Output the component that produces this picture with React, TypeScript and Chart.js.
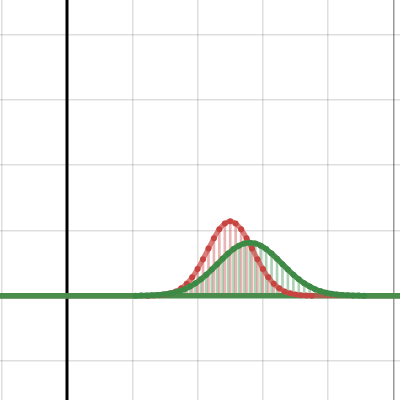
import { useEffect, useRef } from "react";
import Chart from "chart.js/auto";

// visible window of the graph (grid units)
const xMin = -1.026;
const xMax = 5.1;
const yMin = -1.596;
const yMax = 4.53;

// red distribution (sample positions and heights)
const redX = [
  1.25, 1.333, 1.417, 1.5, 1.583, 1.667, 1.75, 1.833, 1.917, 2, 2.083, 2.167,
  2.25, 2.333, 2.417, 2.5, 2.583, 2.667, 2.75, 2.833, 2.917, 3, 3.083, 3.167,
  3.25, 3.333, 3.417, 3.5, 3.583, 3.667, 3.75,
];
const redY = [
  0.002, 0.004, 0.01, 0.019, 0.037, 0.067, 0.115, 0.186, 0.284, 0.411, 0.561,
  0.724, 0.883, 1.018, 1.108, 1.14, 1.108, 1.018, 0.883, 0.724, 0.561, 0.411,
  0.284, 0.186, 0.115, 0.067, 0.037, 0.019, 0.01, 0.004, 0.002,
];

// green distribution
const greenX = [
  1.05, 1.133, 1.217, 1.3, 1.383, 1.467, 1.55, 1.633, 1.717, 1.8, 1.883, 1.967,
  2.05, 2.133, 2.217, 2.3, 2.383, 2.467, 2.55, 2.633, 2.717, 2.8, 2.883, 2.967,
  3.05, 3.133, 3.217, 3.3, 3.383, 3.467, 3.55, 3.633, 3.717, 3.8, 3.883, 3.967,
  4.05, 4.133, 4.217, 4.3, 4.383, 4.467, 4.55,
];
const greenY = [
  0.001, 0.003, 0.004, 0.008, 0.012, 0.02, 0.031, 0.048, 0.071, 0.101, 0.142,
  0.192, 0.252, 0.323, 0.401, 0.484, 0.567, 0.646, 0.715, 0.768, 0.802, 0.814,
  0.802, 0.768, 0.715, 0.646, 0.567, 0.484, 0.401, 0.323, 0.252, 0.192, 0.142,
  0.101, 0.071, 0.048, 0.031, 0.02, 0.012, 0.008, 0.004, 0.003, 0.001,
];

const toPoints = (xs: number[], ys: number[]) =>
  xs.map((x, i) => ({ x, y: ys[i] }));

// curve that runs along y = 0 to both edges of the window
const curve = (xs: number[], ys: number[]) => [
  { x: xMin - 0.1, y: 0 },
  ...toPoints(xs, ys),
  { x: xMax + 0.1, y: 0 },
];

const App = () => {
  const canvasRef = useRef<HTMLCanvasElement | null>(null);

  useEffect(() => {
    document.body.style.margin = "0";
    const ctx = canvasRef.current?.getContext("2d");
    if (!ctx) return;

    const redCurve = curve(redX, redY);
    const greenCurve = curve(greenX, greenY);
    // no dot on the two edge points
    const dot = (n: number, r: number) => (c: any) =>
      c.dataIndex === 0 || c.dataIndex === n - 1 ? 0 : r;

    const chart = new Chart(ctx, {
      type: "line",
      data: {
        datasets: [
          {
            // y axis
            data: [
              { x: 0, y: yMin - 1 },
              { x: 0, y: yMax + 1 },
            ],
            borderColor: "#000",
            borderWidth: 3,
            pointRadius: 0,
            order: 10,
          },
          {
            type: "bar",
            data: toPoints(redX, redY),
            backgroundColor: "rgba(199, 68, 64, 0.4)",
            barThickness: 2,
            grouped: false,
            order: 6,
          },
          {
            type: "bar",
            data: toPoints(greenX, greenY),
            backgroundColor: "rgba(56, 140, 70, 0.4)",
            barThickness: 2,
            grouped: false,
            order: 5,
          },
          {
            // green baseline along y = 0
            data: [
              { x: xMin - 1, y: 0 },
              { x: xMax + 1, y: 0 },
            ],
            borderColor: "#4a8c4c",
            borderWidth: 5.5,
            pointRadius: 0,
            order: 3,
          },
          {
            data: redCurve,
            borderColor: "rgba(205, 80, 76, 0.75)",
            borderWidth: 5,
            cubicInterpolationMode: "monotone",
            pointRadius: dot(redCurve.length, 3),
            pointBackgroundColor: "#c74440",
            pointBorderWidth: 0,
            order: 2,
          },
          {
            data: greenCurve,
            borderColor: "#4a8c4c",
            borderWidth: 5.5,
            cubicInterpolationMode: "monotone",
            pointRadius: dot(greenCurve.length, 3),
            pointBackgroundColor: "#3c8a45",
            pointBorderWidth: 0,
            order: 1,
          },
        ],
      } as any,
      options: {
        animation: false,
        responsive: true,
        maintainAspectRatio: false,
        layout: { padding: 0 },
        plugins: { legend: { display: false }, tooltip: { enabled: false } },
        scales: {
          x: {
            type: "linear",
            min: xMin,
            max: xMax,
            offset: false,
            ticks: { display: false, stepSize: 1, includeBounds: false, autoSkip: false },
            grid: {
              drawTicks: false,
              offset: false,
              lineWidth: 1.5,
              color: (c: any) =>
                c.tick && c.tick.value === 5 ? "#9a9a9a" : "rgba(0, 0, 0, 0.13)",
            },
            border: { display: false },
          },
          y: {
            type: "linear",
            min: yMin,
            max: yMax,
            ticks: { display: false, stepSize: 1, includeBounds: false, autoSkip: false },
            grid: { drawTicks: false, lineWidth: 1.5, color: "rgba(0, 0, 0, 0.13)" },
            border: { display: false },
          },
        },
      },
    });

    return () => {
      chart.destroy();
    };
  }, []);

  return (
    <div style={{ width: 400, height: 400, position: "relative" }}>
      <canvas ref={canvasRef}></canvas>
    </div>
  );
};

export default App;
